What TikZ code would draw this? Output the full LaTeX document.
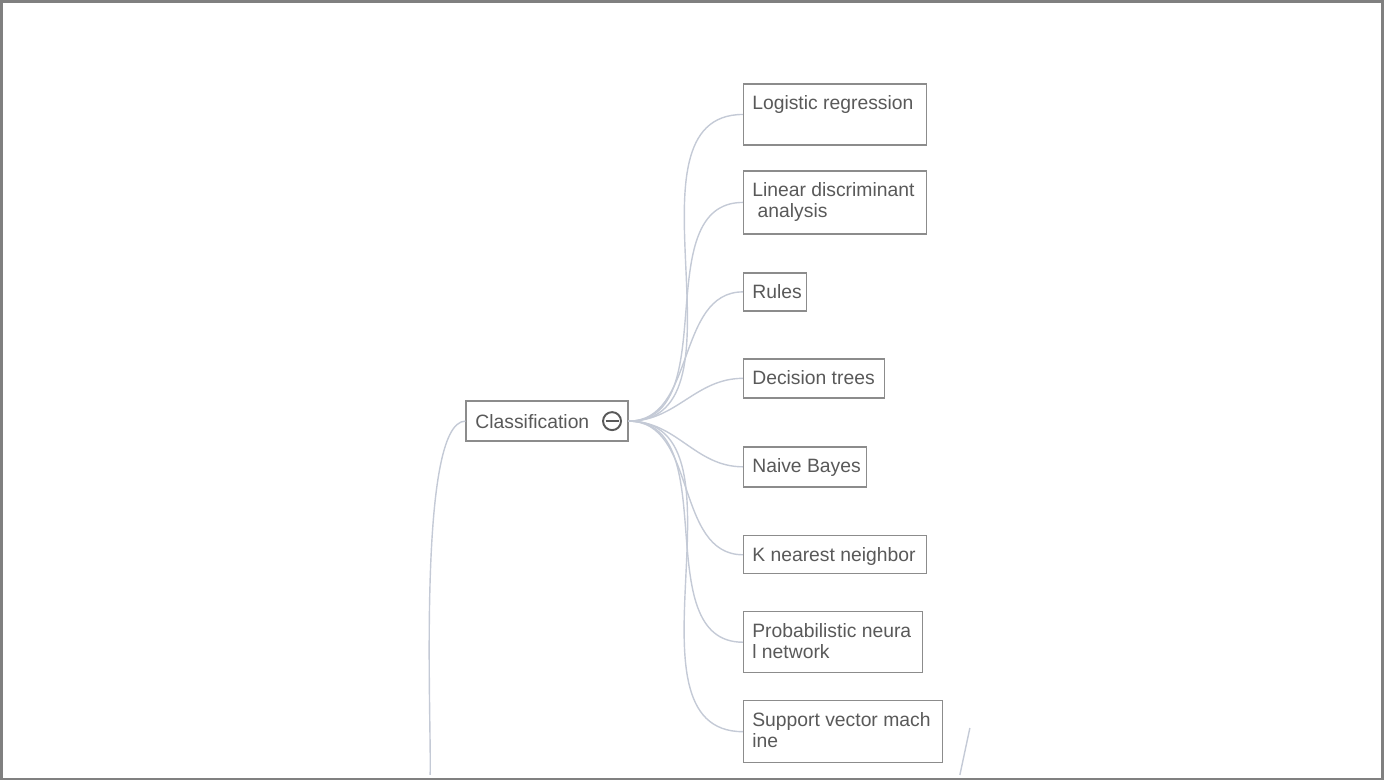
\documentclass[tikz,border=0pt]{standalone}
\usepackage{fontspec}
\setmainfont{Liberation Sans}
\usetikzlibrary{positioning}
\definecolor{linkgray}{RGB}{196,202,214}
\begin{document}
\begin{tikzpicture}[x=0.02cm, y=-0.02cm,
        leaf/.style={rectangle, draw=black!45, line width=0.8pt, fill=white, inner sep=0pt},
        txt/.style={anchor=north west, inner sep=0pt, align=left, text=black!65, font=\fontsize{11}{12}\selectfont},
        link/.style={draw=linkgray, line width=0.8pt}
    ]
    % frame
    \draw[black!50, line width=1.5pt] (1,1) rectangle (1383,779);
    \useasboundingbox (0,0) rectangle (1384,784);

    % root
    \node (cls) [leaf, minimum width=162*0.02cm, minimum height=40*0.02cm] at (547,421) {};
    \node (clstxt) [txt, anchor=west] at (475,421) {Classification};
    \node (minus) [circle, draw=black!65, line width=1.1pt, minimum size=0.36cm, inner sep=0pt] at (612,421) {};
    \draw[black!65, line width=1.2pt] ([xshift=-0.13cm]minus.center) -- ([xshift=0.13cm]minus.center);

    % leaves
    \foreach \name/\x/\y/\w/\h/\label in {
        lr/743/83/183/61/{Logistic regression},
        lda/743/170/183/63/{Linear discriminant\\\ analysis},
        rules/743/272/63/38/{Rules},
        dt/743/358/141/39/{Decision trees},
        nb/743/446/123/40/{Naive Bayes},
        knn/743/535/183/38/{K nearest neighbor},
        pnn/743/611/179/61/{Probabilistic neura\\l network},
        svm/743/700/199/62/{Support vector mach\\ine}} {
        \node (\name) [leaf, anchor=north west, minimum width=\w*0.02cm, minimum height=\h*0.02cm] at (\x,\y) {};
        \node (\name txt) [txt] at (\x+9,\y+12) {\label};
        \draw[link] (cls.east) to[out=0, in=180] (\name.west);
    }

    % off-page branches
    \coordinate (down) at (430,775);
    \coordinate (br1) at (970,728);
    \coordinate (br2) at (960,775);
    \draw[link] (cls.west) to[out=180, in=88, looseness=0.35] (down);
    \draw[link] (br1) -- (br2);
\end{tikzpicture}
\end{document}
